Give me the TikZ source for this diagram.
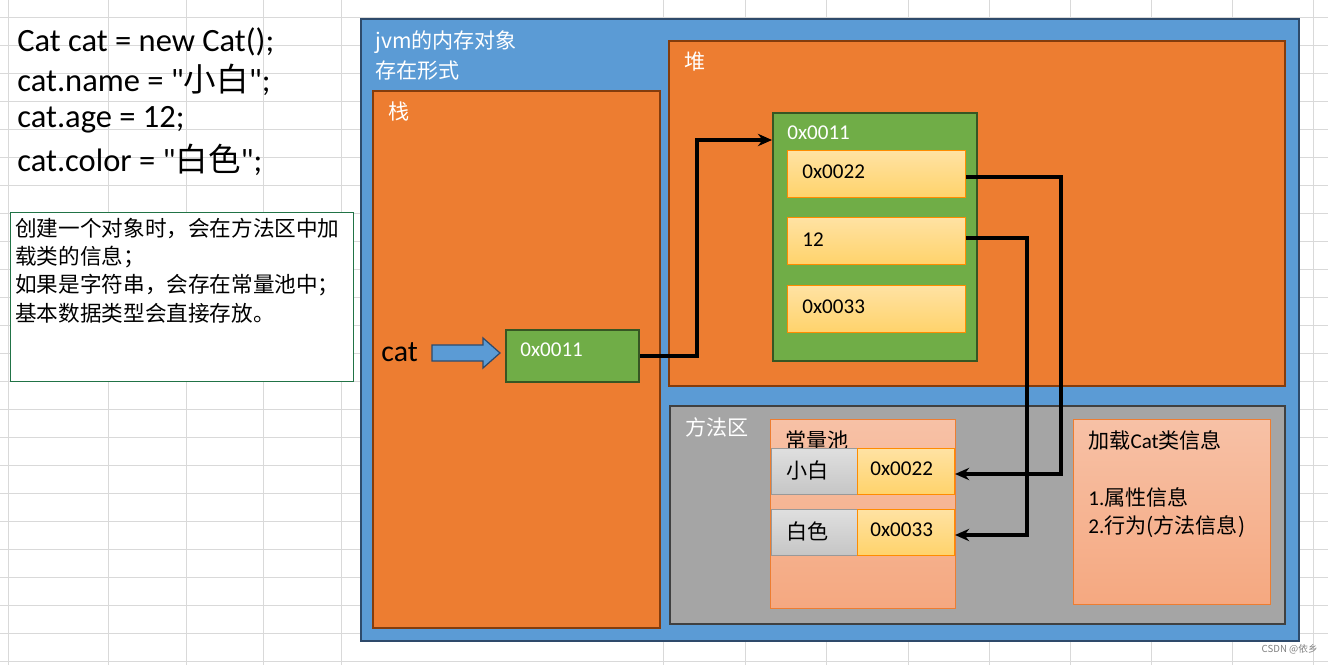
\documentclass[tikz,border=0pt]{standalone}
\usepackage{fontspec}
\setmainfont{Carlito}[Ligatures=TeXOff]
\newfontfamily\cjk{Noto Sans CJK SC}
\usetikzlibrary{arrows.meta}
\definecolor{grid}{HTML}{D9D9D9}
\definecolor{jvmblue}{HTML}{5B9BD5}
\definecolor{jvmborder}{HTML}{2E4A6B}
\definecolor{org}{HTML}{ED7D31}
\definecolor{orgborder}{HTML}{843C0C}
\definecolor{grn}{HTML}{70AD47}
\definecolor{grnborder}{HTML}{375623}
\definecolor{notegrn}{HTML}{217346}
\definecolor{gry}{HTML}{A5A5A5}
\definecolor{ylwA}{HTML}{FFE2A3}
\definecolor{ylwB}{HTML}{FFD36B}
\definecolor{salA}{HTML}{F7C1A6}
\definecolor{salB}{HTML}{F5A880}
\begin{document}
\begin{tikzpicture}[x=0.02cm, y=-0.02cm,
  box/.style = {draw, line width=1.2pt, inner sep=0, anchor=north west},
  fld/.style = {draw=orange!90!yellow, line width=0.6pt, top color=ylwA, bottom color=ylwB, inner sep=0, anchor=north west},
  pool/.style = {draw=org, line width=0.6pt, top color=salA, bottom color=salB, inner sep=0, anchor=north west},
  key/.style = {draw=gray!80, line width=0.6pt, top color=gray!25, bottom color=gray!45, inner sep=0, anchor=north west},
  lbl/.style = {anchor=west, inner sep=0, font=\fontsize{12}{14}\selectfont},
  wlbl/.style = {lbl, text=white},
  code/.style = {anchor=west, inner sep=0, font=\fontsize{18.5}{20}\selectfont},
  link/.style = {line width=2.2pt, -{Stealth[length=8pt,width=7pt]}}]
  \useasboundingbox (0,0) rectangle (1328,665);
  % spreadsheet grid
  \foreach \gx in {8,108,186,263,341,663,745,826,908,989,1070,1151,1232,1313}
    \draw [grid, line width=0.4pt] (\gx,0) -- (\gx,665);
  \foreach \gy in {17,45,73,101,129,157,185,213,241,269,297,325,353,381,409,437,465,493,521,549,577,605,633,661}
    \draw [grid, line width=0.4pt] (0,\gy) -- (1328,\gy);

  % code
  \node [code] (c1) at (17,42) {Cat cat = new Cat();};
  \node [code] (c2) at (17,80) {cat.name = "{\cjk 小白}";};
  \node [code] (c3) at (17,120) {cat.age = 12;};
  \node [code] (c4) at (17,160) {cat.color = "{\cjk 白色}";};

  % note
  \node [box, draw=notegrn, line width=0.8pt, fill=white, minimum width=343*0.02cm, minimum height=169*0.02cm] (note) at (10,212) {};
  \begin{scope}[every node/.style={anchor=west, inner sep=0, font=\cjk\fontsize{12.3}{14}\selectfont}]
    \node (n1) at (15,229) {创建一个对象时，会在方法区中加};
    \node (n2) at (15,257) {载类的信息；};
    \node (n3) at (15,285) {如果是字符串，会存在常量池中；};
    \node (n4) at (15,313) {基本数据类型会直接存放。};
  \end{scope}

  % jvm frame
  \node [box, draw=jvmborder, fill=jvmblue, minimum width=938*0.02cm, minimum height=622*0.02cm] (jvm) at (360,18) {};
  \node [wlbl] (jt1) at (375,42) {{\cjk jvm的内存对象}};
  \node [wlbl] (jt2) at (375,71) {{\cjk 存在形式}};

  % stack
  \node [box, draw=orgborder, fill=org, minimum width=287*0.02cm, minimum height=537*0.02cm] (stack) at (372,90) {};
  \node [wlbl] (stt) at (388,111) {{\cjk 栈}};
  \node [anchor=west, inner sep=0, font=\fontsize{17}{18}\selectfont] (cat) at (381,352) {cat};
  \draw [draw=jvmborder, fill=jvmblue, line width=0.7pt]
    (432,345) -- (483,345) -- (483,338) -- (500,353) -- (483,368) -- (483,361) -- (432,361) -- cycle;
  \node [box, draw=grnborder, fill=grn, minimum width=133*0.02cm, minimum height=52*0.02cm] (ref) at (505,329) {};
  \node [wlbl] (reft) at (520,350) {0x0011};

  % heap
  \node [box, draw=orgborder, fill=org, minimum width=616*0.02cm, minimum height=345*0.02cm] (heap) at (668,40) {};
  \node [wlbl] (ht) at (684,62) {{\cjk 堆}};
  \node [box, draw=grnborder, fill=grn, minimum width=204*0.02cm, minimum height=248*0.02cm] (obj) at (772,112) {};
  \node [wlbl] (objt) at (787,133) {0x0011};
  \node [fld, minimum width=178*0.02cm, minimum height=47*0.02cm] (fname) at (787,150) {};
  \node [fld, minimum width=178*0.02cm, minimum height=47*0.02cm] (fage) at (787,217) {};
  \node [fld, minimum width=178*0.02cm, minimum height=47*0.02cm] (fcolor) at (787,285) {};
  \node [lbl] at (802,172) {0x0022};
  \node [lbl] at (802,240) {12};
  \node [lbl] at (802,307) {0x0033};

  % method area
  \node [box, draw=black!75, fill=gry, minimum width=615*0.02cm, minimum height=218*0.02cm] (meth) at (669,405) {};
  \node [wlbl] (mt) at (685,427) {{\cjk 方法区}};
  \node [pool, minimum width=185*0.02cm, minimum height=189*0.02cm] (cpool) at (770,419) {};
  \node [lbl] (cpt) at (785,440) {{\cjk 常量池}};
  \node [key, minimum width=86*0.02cm, minimum height=46*0.02cm] (k1) at (771,448) {};
  \node [fld, minimum width=97*0.02cm, minimum height=46*0.02cm] (v1) at (857,448) {};
  \node [key, minimum width=86*0.02cm, minimum height=46*0.02cm] (k2) at (771,509) {};
  \node [fld, minimum width=97*0.02cm, minimum height=46*0.02cm] (v2) at (857,509) {};
  \node [lbl] at (786,470) {{\cjk 小白}};
  \node [lbl] at (870,469) {0x0022};
  \node [lbl] at (786,531) {{\cjk 白色}};
  \node [lbl] at (870,530) {0x0033};
  \node [pool, minimum width=197*0.02cm, minimum height=185*0.02cm] (cls) at (1073,419) {};
  \node [lbl] (cl1) at (1088,440) {{\cjk 加载}Cat{\cjk 类信息}};
  \node [lbl] (cl2) at (1088,497) {1.{\cjk 属性信息}};
  \node [lbl] (cl3) at (1088,527) {2.{\cjk 行为(方法信息)}};

  % links
  \draw [link] (ref.east) -| (697,140) -- (obj.west |- 0,140);
  \draw [link] (fname.east |- 0,177) -| (1061,474) -- (v1.east |- 0,474);
  \draw [link] (fage.east |- 0,238) -| (1027,535) -- (v2.east |- 0,535);

  \node [anchor=east, inner sep=0, text=gray, font=\cjk\fontsize{5.5}{6}\selectfont] (wm) at (1318,649) {CSDN @依乡};
\end{tikzpicture}
\end{document}
